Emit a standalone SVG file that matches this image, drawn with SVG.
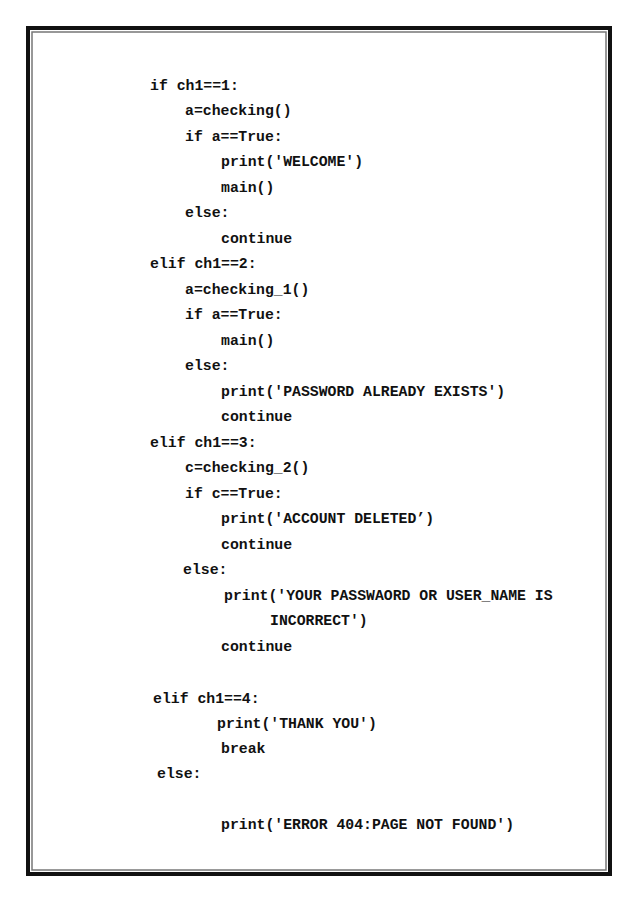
<svg xmlns="http://www.w3.org/2000/svg" width="638" height="902" viewBox="0 0 638 902">
<style>
text{font-family:"Liberation Mono","Courier New",monospace;font-weight:bold;font-size:14.8px;fill:#111;white-space:pre}
</style>
<rect width="638" height="902" fill="#fff"/>
<g id="frame" fill="none">
<rect x="28" y="28" width="582" height="846" stroke="#111" stroke-width="4"/>
<rect x="32" y="32" width="574" height="838" stroke="#777" stroke-width="1.5"/>
</g>
<g id="code">
<text x="150" y="90">if ch1==1:</text>
<text x="185" y="115">a=checking()</text>
<text x="185" y="141">if a==True:</text>
<text x="221" y="166">print('WELCOME')</text>
<text x="221" y="192">main()</text>
<text x="185" y="217">else:</text>
<text x="221" y="243">continue</text>
<text x="150" y="268">elif ch1==2:</text>
<text x="185" y="294">a=checking_1()</text>
<text x="185" y="319">if a==True:</text>
<text x="221" y="345">main()</text>
<text x="185" y="370">else:</text>
<text x="221" y="396">print('PASSWORD ALREADY EXISTS')</text>
<text x="221" y="421">continue</text>
<text x="150" y="447">elif ch1==3:</text>
<text x="185" y="472">c=checking_2()</text>
<text x="185" y="498">if c==True:</text>
<text x="221" y="523">print('ACCOUNT DELETED’)</text>
<text x="221" y="549">continue</text>
<text x="183" y="574">else:</text>
<text x="224" y="600">print('YOUR PASSWAORD OR USER_NAME IS</text>
<text x="270" y="625">INCORRECT')</text>
<text x="221" y="651">continue</text>
<text x="153" y="703">elif ch1==4:</text>
<text x="217" y="728">print('THANK YOU')</text>
<text x="221" y="753">break</text>
<text x="157" y="778">else:</text>
<text x="221" y="829">print('ERROR 404:PAGE NOT FOUND')</text>
</g>
</svg>
